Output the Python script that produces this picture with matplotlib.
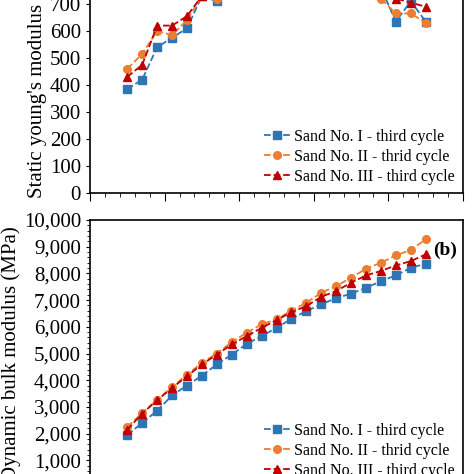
import matplotlib
matplotlib.use("Agg")
import matplotlib.pyplot as plt
from matplotlib.ticker import MultipleLocator, FuncFormatter

x = [2.5 + i for i in range(21)]
young_I   = [385, 420, 540, 575, 610, 730, 710, 770, 790, 805, 815, 825, 830, 835, 830, 820, 800, 760, 635, 710, 635]
young_II  = [460, 515, 600, 585, 640, 730, 720, 780, 800, 815, 825, 835, 840, 840, 835, 820, 790, 720, 665, 665, 630]
young_III = [430, 475, 620, 620, 655, 730, 740, 790, 810, 820, 830, 840, 845, 845, 840, 830, 800, 760, 720, 705, 690]
bulk_I   = [1950, 2400, 2860, 3430, 3800, 4175, 4590, 4960, 5360, 5650, 5960, 6300, 6590, 6840, 7075, 7240, 7460, 7710, 7925, 8210, 8360]
bulk_II  = [2250, 2775, 3275, 3740, 4210, 4650, 5000, 5425, 5775, 6090, 6275, 6610, 6900, 7275, 7525, 7840, 8175, 8400, 8675, 8875, 9275]
bulk_III = [2150, 2750, 3250, 3710, 4150, 4590, 4960, 5340, 5650, 5960, 6250, 6550, 6775, 7125, 7340, 7650, 7925, 8090, 8300, 8460, 8710]
labels = ["Sand No. I - third cycle", "Sand No. II - thrid cycle", "Sand No. III - third cycle"]

plt.rcParams['font.family'] = ['Liberation Serif', 'DejaVu Serif']
colors = ['#2E75B6', '#ED7D31', '#C00000']
markers = ['s', 'o', '^']

fig = plt.figure(figsize=(4.74, 4.74), dpi=100)
H = 474.0
def ax_at(top_px, bot_px):
    return fig.add_axes([90/H, 1-bot_px/H, (463-90)/H, (bot_px-top_px)/H])

ax1 = ax_at(-50, 193)
ax2 = ax_at(220, 487)

for ax, data in ((ax1, (young_I, young_II, young_III)), (ax2, (bulk_I, bulk_II, bulk_III))):
    for d, c, m, l in zip(data, colors, markers, labels):
        ax.plot(x, d, linestyle='--', color=c, marker=m, markersize=5.5, linewidth=1.3, label=l)
    ax.set_xlim(0, 25)
    ax.xaxis.set_major_locator(MultipleLocator(5))
    ax.xaxis.set_minor_locator(MultipleLocator(1))
    ax.tick_params(axis='x', which='major', length=6, labelbottom=False)
    ax.tick_params(axis='x', which='minor', length=3)
    ax.tick_params(axis='y', labelsize=15, length=3)
    for s in ax.spines.values():
        s.set_linewidth(1.2)
    ax.legend(loc='lower right', frameon=False, fontsize=11.5, handlelength=1.6,
              handletextpad=0.3, labelspacing=0.25, borderaxespad=0.1)

ax1.set_ylim(0, 900)
ax1.yaxis.set_major_locator(MultipleLocator(100))
ax1.set_ylabel("Static young's modulus (MPa)", fontsize=15, labelpad=2)

ax2.set_ylim(0, 10000)
ax2.yaxis.set_major_locator(MultipleLocator(1000))
ax2.yaxis.set_minor_locator(MultipleLocator(200))
ax2.tick_params(axis='y', which='minor', length=2)
ax2.yaxis.set_major_formatter(FuncFormatter(lambda v, p: f"{int(v):,}"))
ax2.set_ylabel("Dynamic bulk modulus (MPa)", fontsize=15, labelpad=2)
ax2.text(0.985, 0.885, "(b)", transform=ax2.transAxes, ha='right', va='center',
         fontsize=14, fontweight='bold')

fig.savefig("out.png", dpi=100)
